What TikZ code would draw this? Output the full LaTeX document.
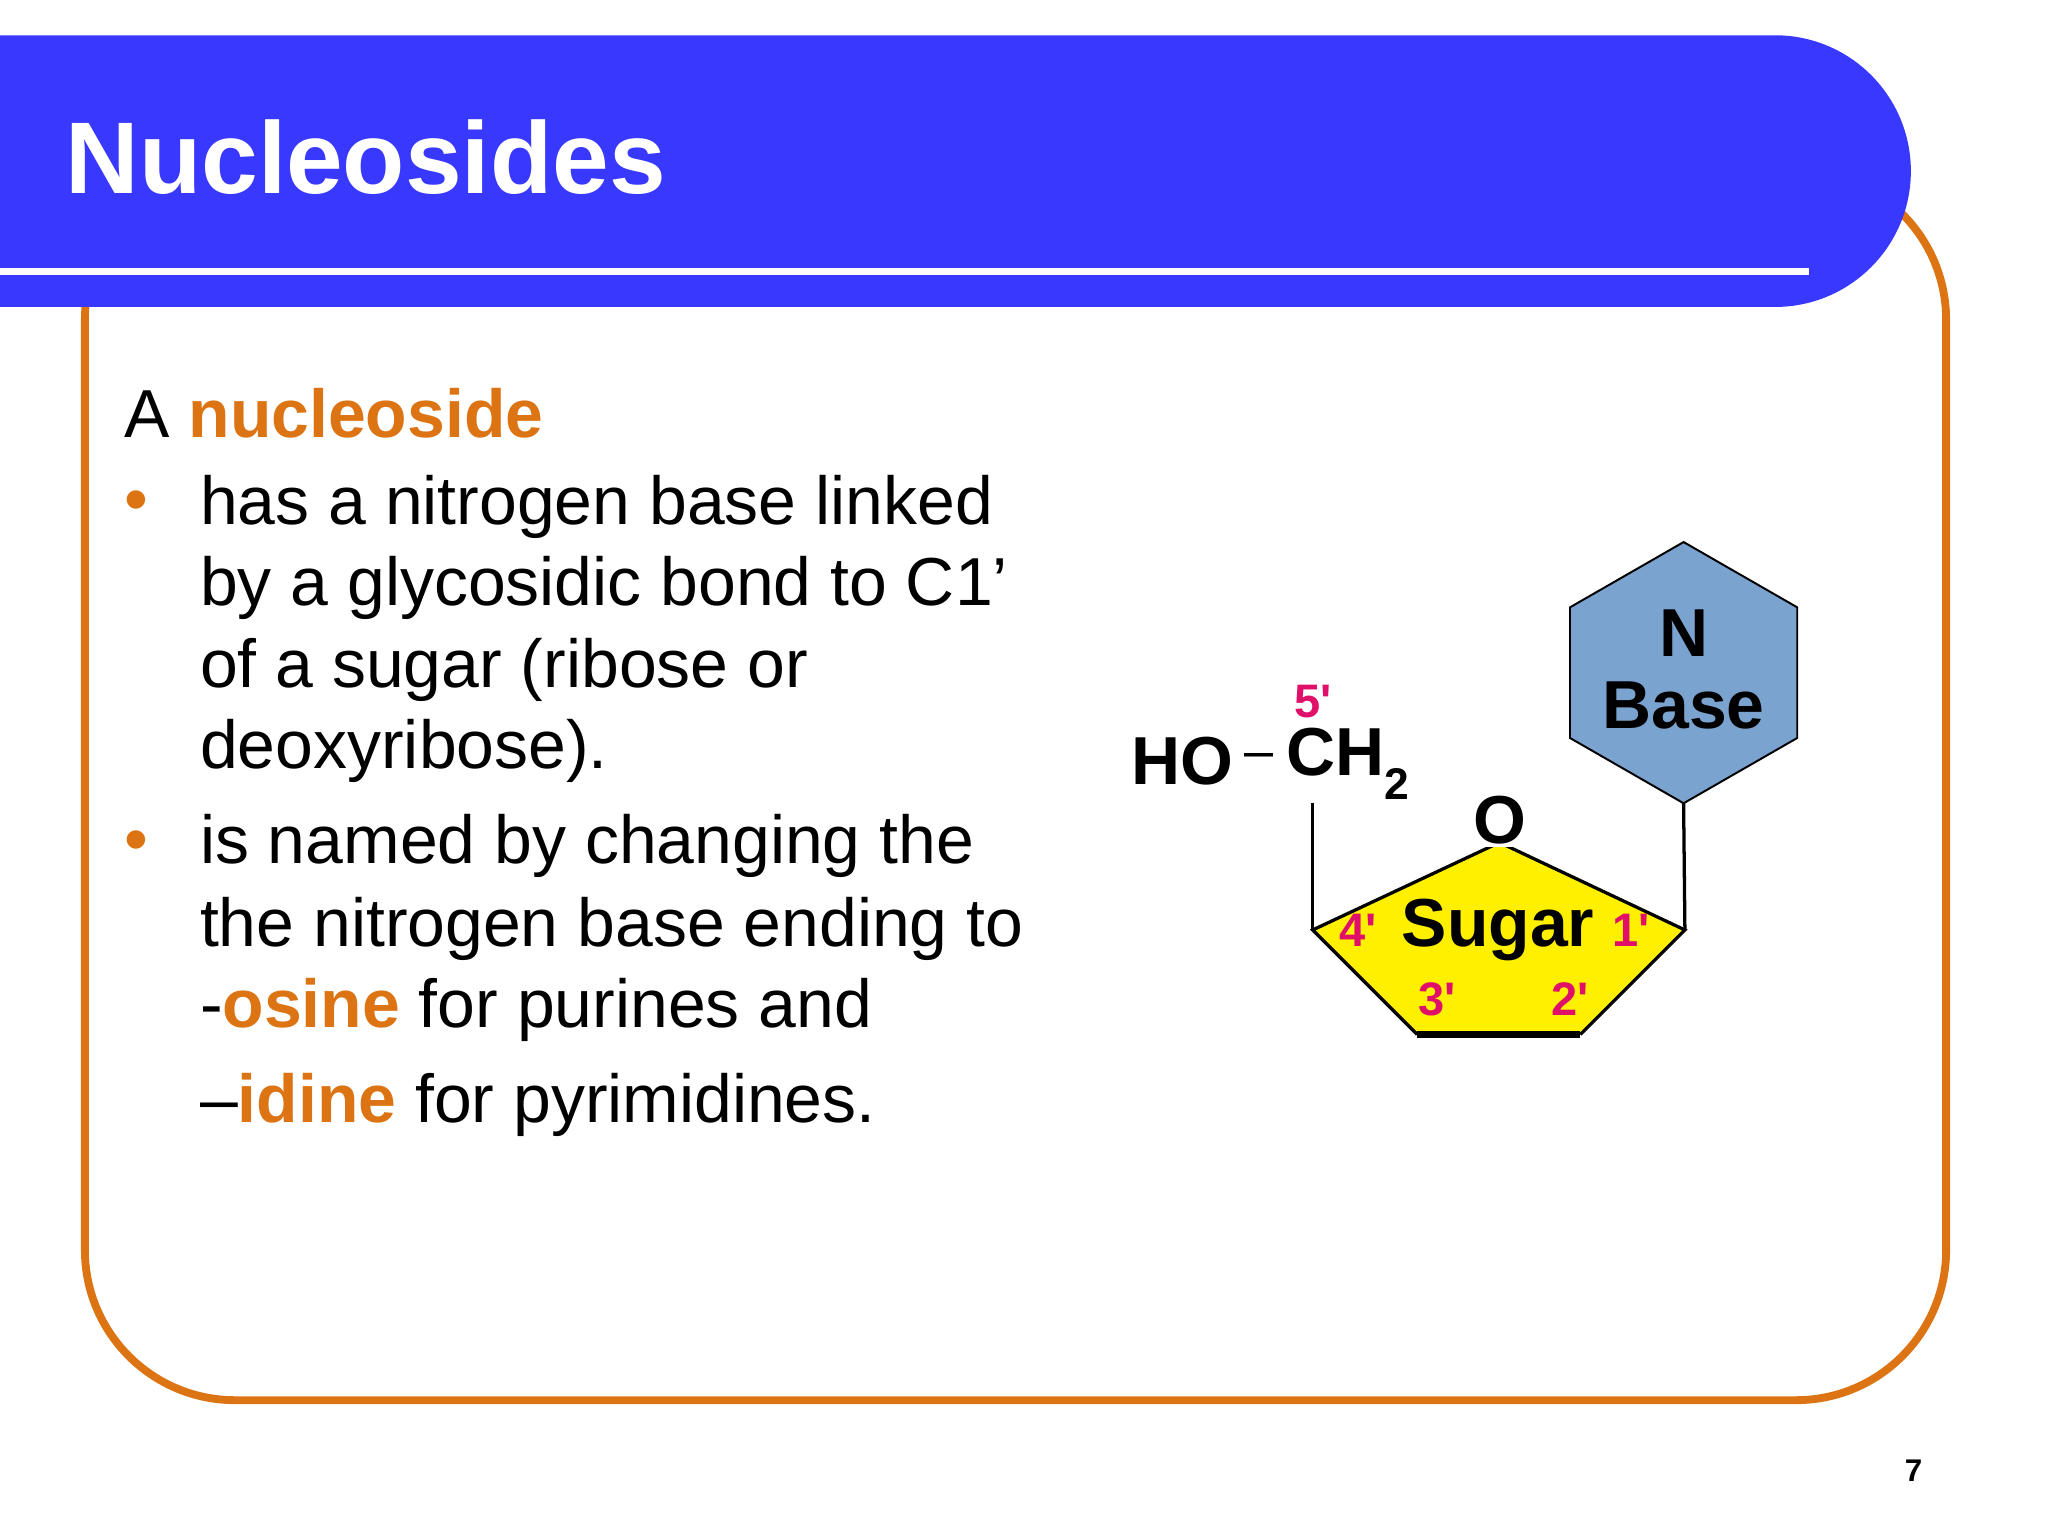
\documentclass[tikz,border=0pt]{standalone}
\usepackage{fontspec}
\setmainfont{Liberation Sans}
\definecolor{banner}{HTML}{3838FF}
\definecolor{orng}{HTML}{DC7414}
\definecolor{mag}{HTML}{E0106A}
\definecolor{hexc}{HTML}{7BA3D0}
\definecolor{yel}{HTML}{FFF000}
\newcommand{\pr}{\textquotesingle}
\tikzset{body/.style={anchor=west,inner sep=0,font=\fontsize{52}{60}\selectfont},
 lbl/.style={inner sep=0,font=\fontsize{52}{60}\selectfont\bfseries},
 prm/.style={inner sep=0,text=mag,font=\fontsize{36}{40}\selectfont\bfseries},
 bond/.style={line width=2.5pt}}
\begin{document}
\begin{tikzpicture}[x=1pt,y=-1pt]
\useasboundingbox (0,0) rectangle (1568,1176);
\fill[white] (0,0) rectangle (1568,1176);
\draw[orng,line width=6pt,rounded corners=115pt] (65,130) rectangle (1490,1072);
\fill[banner] (0,27) -- (1359,27) arc[start angle=-90,end angle=90,radius=104] -- (0,235) -- cycle;
\draw[white,line width=5pt] (0,208) -- (1385,208);
\node[anchor=west,inner sep=0,text=white,font=\fontsize{78}{90}\selectfont\bfseries] (title) at (50,120) {Nucleosides};
\node[body] (a) at (95,316) {A \textcolor{orng}{\bfseries nucleoside}};
\node[body,text=orng] (b1) at (95,388) {•};
\node[body,text=orng] (b2) at (95,648) {•};
\node[body] (l1) at (153,388) {has a nitrogen base linked};
\node[body] (l2) at (153,450) {by a glycosidic bond to C1’};
\node[body] (l3) at (153,513) {of a sugar (ribose or};
\node[body] (l4) at (153,575) {deoxyribose).};
\node[body] (l5) at (153,648) {is named by changing the};
\node[body] (l6) at (153,711) {the nitrogen base ending to};
\node[body] (l7) at (153,773) {-\textcolor{orng}{\bfseries osine} for purines and};
\node[body] (l8) at (153,846) {–\textcolor{orng}{\bfseries idine} for pyrimidines.};
% hexagon
\draw[fill=hexc,line width=1.5pt] (1289,415) -- (1376,465) -- (1376,565) -- (1289,615) -- (1202,565) -- (1202,465) -- cycle;
\coordinate (hb) at (1289,615);
\node[lbl] (N) at (1289,485) {N};
\node[lbl] (base) at (1289,540) {Base};
% pentagon
\coordinate (pt) at (1148,645);
\coordinate (pl) at (1005,712);
\coordinate (pr) at (1290,712);
\coordinate (pbr) at (1210,792);
\coordinate (pbl) at (1085,792);
\fill[yel] (pt) -- (pr) -- (pbr) -- (pbl) -- (pl) -- cycle;
\draw[bond] (pt) -- (pr) -- (pbr);
\draw[bond] (pbl) -- (pl) -- (pt);
\draw[line width=6pt] (pbl) -- (pbr);
\draw[bond] (hb) -- (pr);
\node[lbl,fill=white,inner sep=2pt] (O) at (1148,628) {O};
\node[lbl] (ho) at (905,583) {HO};
\node[inner sep=0,font=\fontsize{40}{40}\selectfont] (dash) at (964,583) {–};
\node[lbl,anchor=west] (ch) at (985,585) {CH\raisebox{-0.35em}{\fontsize{34}{34}\selectfont 2}};
\coordinate (cb) at (1005,615);
\draw[bond] (cb) -- (pl);
\node[prm] (p5) at (1005,537) {5\pr};
\node[prm] (p4) at (1040,712) {4\pr};
\node[lbl] (sugar) at (1147,712) {Sugar};
\node[prm] (p1) at (1249,712) {1\pr};
\node[prm] (p3) at (1100,765) {3\pr};
\node[prm] (p2) at (1202,765) {2\pr};
\node[inner sep=0,font=\fontsize{24}{24}\selectfont\bfseries] (pg) at (1465,1126) {7};
\end{tikzpicture}
\end{document}
